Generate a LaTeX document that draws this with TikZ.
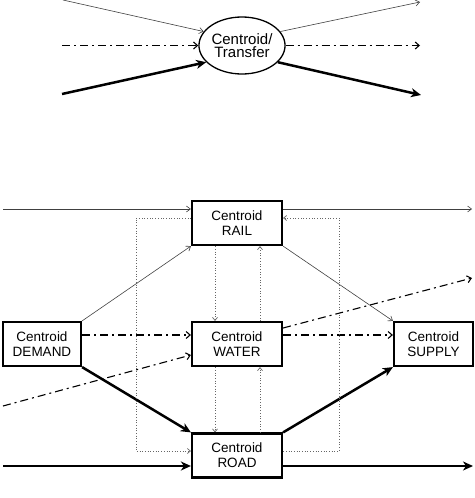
\documentclass[tikz,border=0pt]{standalone}
\usepackage{fontspec}
\setmainfont{Liberation Sans}
\usetikzlibrary{arrows.meta,shapes.geometric}
\tikzset{
  box/.style={draw, line width=2.2pt, minimum width=90pt, minimum height=44pt,
    inner sep=0pt, align=center, font=\fontsize{13.5}{15}\selectfont},
  thinflow/.style={draw=black!75, line width=0.6pt, -{Straight Barb[length=4pt,width=6pt]}},
  waterflow/.style={line width=1.1pt, dash pattern=on 8pt off 4pt on 2pt off 4pt,
    -{Straight Barb[length=4pt,width=7pt]}},
  roadflow/.style={line width=2.5pt, -{Stealth[length=10pt,width=9pt,inset=3pt]}},
  transfer/.style={draw=black!60, line width=0.7pt, dotted, -{Straight Barb[length=3pt,width=5pt]}}
}
\begin{document}
\begin{tikzpicture}[x=1pt,y=-1pt]
\useasboundingbox (0,0) rectangle (474,498);
% upper part
\node[ellipse, draw, line width=1.3pt, minimum width=68pt, minimum height=57pt, inner sep=0pt,
  align=center, font=\fontsize{15}{13.5}\selectfont] (hub) at (242,45.5) {Centroid/\\Transfer};
\coordinate (hubA) at (63,0);
\coordinate (hubB) at (420,2);
\coordinate (hubC) at (62,45.5);
\coordinate (hubD) at (420,45.5);
\coordinate (hubE) at (62,94);
\coordinate (hubF) at (421,95);
\draw[thinflow] (hubA) -- (hub.160);
\draw[thinflow] (hub.20) -- (hubB);
\draw[waterflow] (hubC) -- (hub.west);
\draw[waterflow] (hub.east) -- (hubD);
\draw[roadflow] (hubE) -- (hub.205);
\draw[roadflow] (hub.335) -- (hubF);
% lower part
\node[box] (rail) at (237,223) {Centroid\\RAIL};
\node[box] (water) at (237,344) {Centroid\\WATER};
\node[box] (road) at (237,455.5) {Centroid\\ROAD};
\node[box, minimum width=78pt] (demand) at (42,344) {Centroid\\DEMAND};
\node[box, minimum width=79pt] (supply) at (433.5,344) {Centroid\\SUPPLY};
\coordinate (railin) at (3,209);
\coordinate (railout) at (472,209);
\coordinate (waterin) at (3,406);
\coordinate (waterout) at (472,278);
\coordinate (roadin) at (3,466);
\coordinate (roadout) at (473,466);
% rail
\draw[thinflow] (railin) -- (railin -| rail.west);
\draw[thinflow] (railout -| rail.east) -- (railout);
\draw[thinflow] (demand.north east) -- (rail.south west);
\draw[thinflow] (rail.south east) -- (supply.north west);
% water
\draw[waterflow] ([yshift=9pt]demand.east) -- ([yshift=9pt]water.west);
\draw[waterflow] ([yshift=9pt]water.east) -- ([yshift=9pt]supply.west);
\draw[waterflow] (waterin) -- ([yshift=-11pt]water.west);
\draw[waterflow] ([yshift=16pt]water.east) -- (waterout);
% road
\draw[roadflow] (demand.south east) -- (road.north west);
\draw[roadflow] (road.north east) -- (supply.south west);
\draw[roadflow] (roadin) -- (roadin -| road.west);
\draw[roadflow] (roadout -| road.east) -- (roadout);
% transfers
\draw[transfer] ([yshift=5pt]rail.west) -- ++(-55,0) |- ([yshift=4.5pt]road.west);
\draw[transfer] ([yshift=4.5pt]road.east) -- ++(56,0) |- ([yshift=5pt]rail.east);
\draw[transfer] ([xshift=-22pt]rail.south) -- ([xshift=-22pt]water.north);
\draw[transfer] ([xshift=23pt]water.north) -- ([xshift=23pt]rail.south);
\draw[transfer] ([xshift=-22pt]water.south) -- ([xshift=-22pt]road.north);
\draw[transfer] ([xshift=23pt]road.north) -- ([xshift=23pt]water.south);
\end{tikzpicture}
\end{document}
